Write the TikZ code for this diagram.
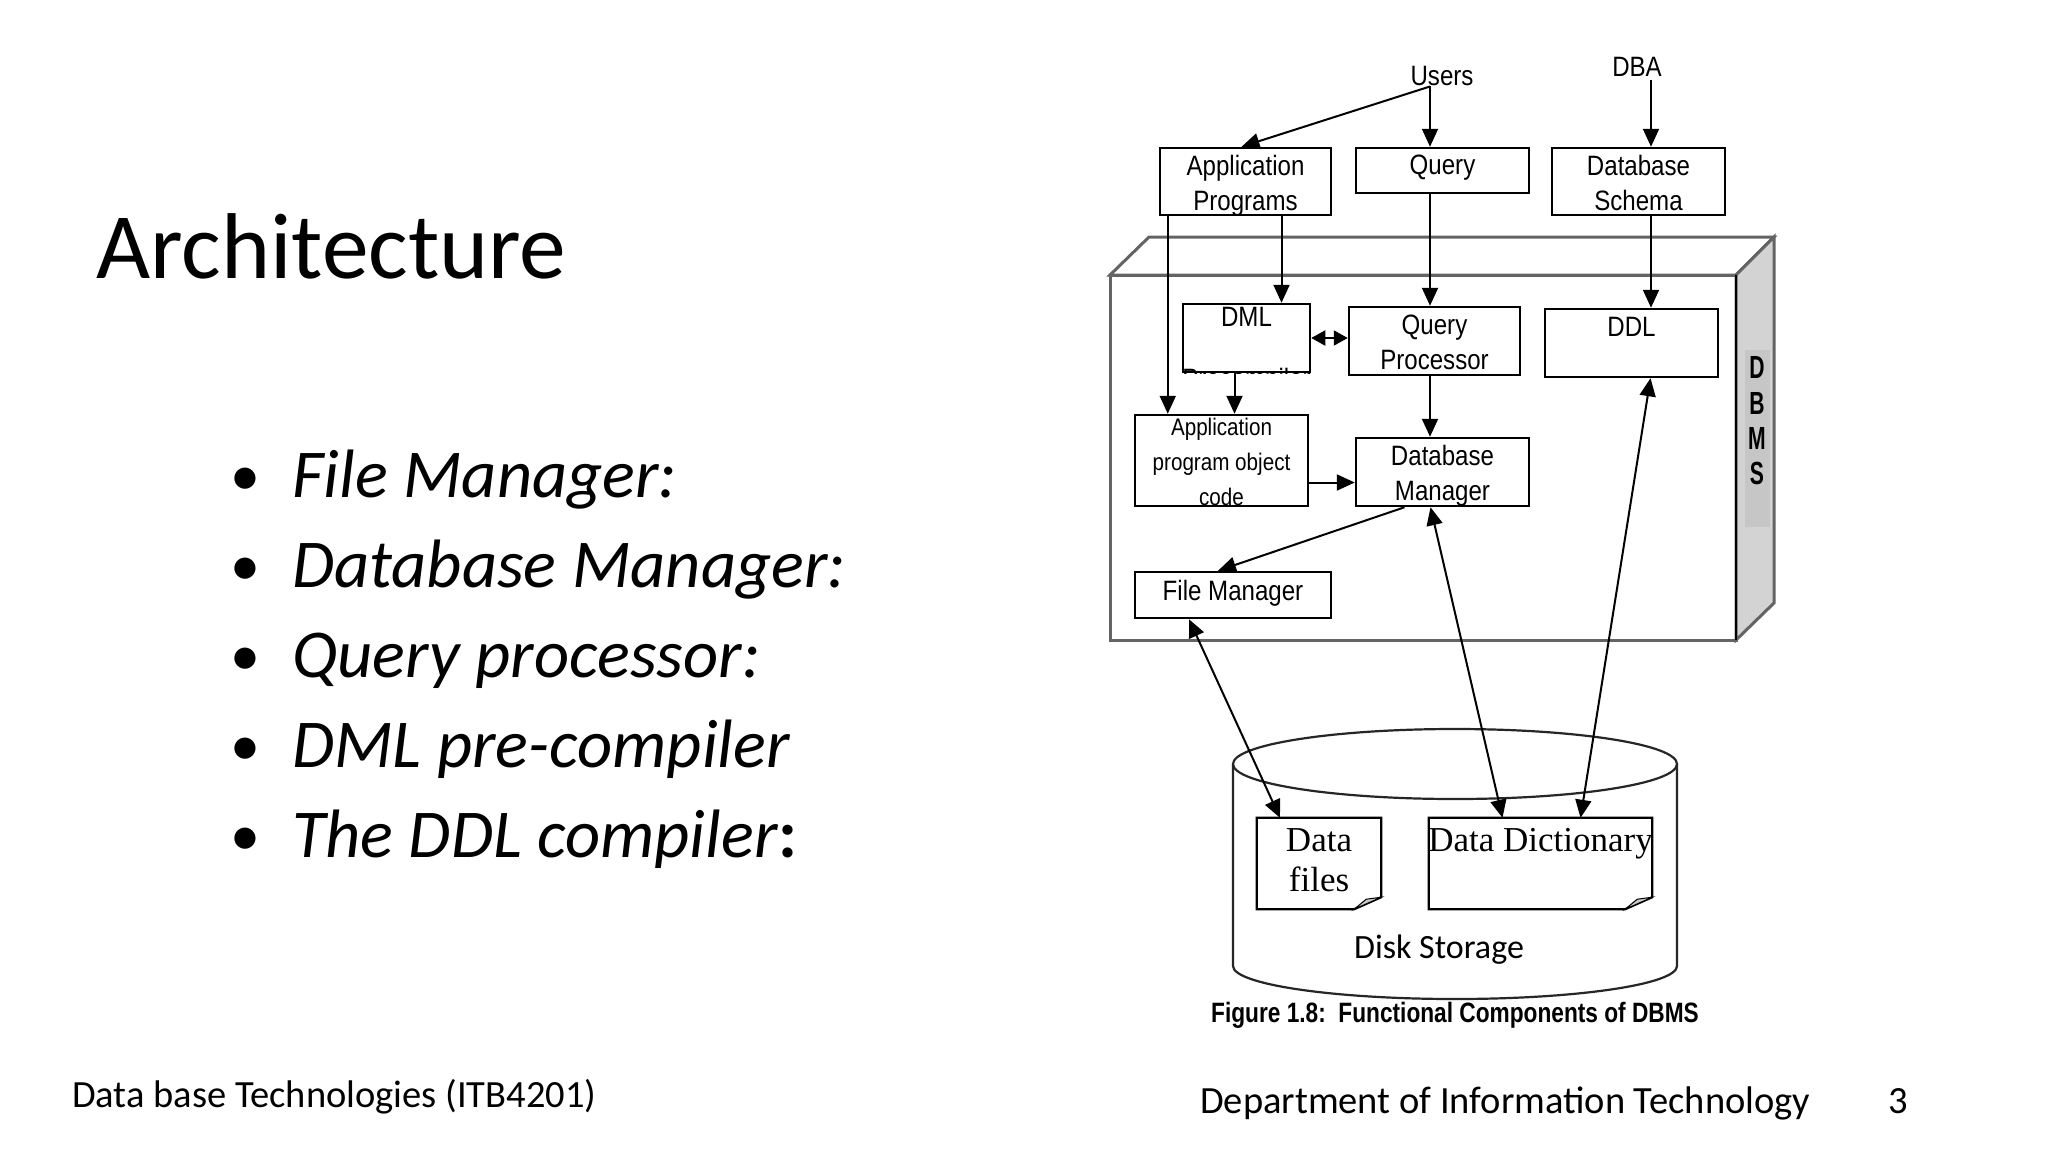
\documentclass[tikz,border=0pt]{standalone}
\usepackage{fontspec}
\setmainfont{Carlito}
\newfontfamily\diagfont[FakeStretch=0.86]{Liberation Sans}
\newfontfamily\capfont[FakeStretch=0.81]{Liberation Sans}
\newfontfamily\dbmsfont[FakeStretch=0.66]{Liberation Sans}
\newfontfamily\docfont{Liberation Serif}
\usetikzlibrary{arrows.meta}
\definecolor{sidegray}{RGB}{211,211,211}
\definecolor{stripgray}{RGB}{198,198,198}
\definecolor{dbmsedge}{RGB}{100,100,100}
\definecolor{foldgray}{RGB}{200,200,200}
\begin{document}
\begin{tikzpicture}[x=1pt,y=-1pt,
  box/.style={draw=black, line width=2.5pt, fill=white, inner sep=0pt},
  lbl/.style={font=\diagfont\fontsize{28}{35}\selectfont, inner sep=0pt, anchor=base},
  lblsm/.style={font=\diagfont\fontsize{24}{30}\selectfont, inner sep=0pt, anchor=base},
  arr/.style={line width=2pt, -{Triangle[length=18pt,width=16pt]}},
  darr/.style={line width=2pt, {Triangle[length=18pt,width=16pt]}-{Triangle[length=18pt,width=16pt]}},
  darrsm/.style={line width=2pt, {Triangle[length=14pt,width=15pt]}-{Triangle[length=14pt,width=15pt]}},
  dbmsline/.style={draw=dbmsedge, line width=3pt, line join=miter},
  cyl/.style={draw=black!85, line width=2.2pt},
  docline/.style={draw=black, line width=2.2pt, fill=white},
  docbox/.style={draw=none, inner sep=0pt, minimum height=91pt},
  doctext/.style={font=\docfont\fontsize{35}{40}\selectfont, inner sep=0pt, anchor=base},
  bul/.style={font=\fontsize{60}{60}\selectfont, inner sep=0pt, anchor=base},
  itm/.style={font=\itshape\fontsize{68.5}{68.5}\selectfont, inner sep=0pt, anchor=base west},
  foot/.style={font=\fontsize{38.5}{38.5}\selectfont, inner sep=0pt}
]
\useasboundingbox (0,0) rectangle (2048,1152);
\fill[white] (0,0) rectangle (2048,1152);

% ---------- slide text ----------
\node[font=\fontsize{93.5}{93.5}\selectfont, inner sep=0pt, anchor=base west] (title) at (96,278) {Architecture};
\node[bul] (b1) at (245,495) {•};
\node[itm] (i1) at (292,497) {File Manager:};
\node[bul] (b2) at (245,585) {•};
\node[itm] (i2) at (292,587) {Database Manager:};
\node[bul] (b3) at (245,675) {•};
\node[itm] (i3) at (292,677) {Query processor:};
\node[bul] (b4) at (245,765) {•};
\node[itm] (i4) at (292,767) {DML pre-compiler};
\node[bul] (b5) at (245,855) {•};
\node[itm] (i5) at (292,857) {The DDL compiler\/\textup{\bfseries :}};

\node[foot, anchor=base west] (f1) at (72,1107) {Data base Technologies (ITB4201)};
\node[foot, anchor=base west] (f2) at (1200,1113) {Department of Information Technology};
\node[foot, anchor=base] (f3) at (1898,1113) {3};

% ---------- DBMS 3D box ----------
\draw[dbmsline, fill=white] (1110,275) rectangle (1736,640);
\draw[dbmsline, fill=white] (1110,275) -- (1149,237) -- (1774,237) -- (1736,275) -- cycle;
\draw[dbmsline, fill=sidegray] (1736,275) -- (1774,237) -- (1774,603) -- (1736,640) -- cycle;
\draw[black, line width=2pt] (1736,275) -- (1736,640);
\fill[stripgray] (1745,350) rectangle (1770,527);
\node[font=\dbmsfont\bfseries\fontsize{32}{32}\selectfont, inner sep=0pt] (dbD) at (1757,367) {D};
\node[font=\dbmsfont\bfseries\fontsize{32}{32}\selectfont, inner sep=0pt] (dbB) at (1757,403) {B};
\node[font=\dbmsfont\bfseries\fontsize{32}{32}\selectfont, inner sep=0pt] (dbM) at (1757,438) {M};
\node[font=\dbmsfont\bfseries\fontsize{32}{32}\selectfont, inner sep=0pt] (dbS) at (1757,473) {S};

% ---------- top labels ----------
\node[lbl] (users) at (1442,85) {Users};
\node[lbl] (dba) at (1637,76) {DBA};
\coordinate (ubot) at ([xshift=-12pt,yshift=-1pt]users.south);
\coordinate (dbot) at ([xshift=14pt,yshift=-4pt]dba.south);

% ---------- boxes ----------
\node[box, minimum width=171pt, minimum height=67pt] (app) at (1245.5,181.5) {};
\node[box, minimum width=173pt, minimum height=45pt] (query) at (1442.5,170.5) {};
\node[box, minimum width=173pt, minimum height=67pt] (schema) at (1638.5,181.5) {};
\node[box, minimum width=127pt, minimum height=68pt] (dml) at (1246.5,338) {};
\node[box, minimum width=171pt, minimum height=68pt] (qp) at (1434.5,341) {};
\node[box, minimum width=173pt, minimum height=68pt] (ddl) at (1631.5,343) {};
\node[box, minimum width=173pt, minimum height=91pt] (appobj) at (1221.5,460.5) {};
\node[box, minimum width=173pt, minimum height=68pt] (dbm) at (1442.5,472) {};
\node[box, minimum width=196pt, minimum height=46pt] (fm) at (1233,595) {};

\begin{scope}
  \clip (app.south west) rectangle (app.north east);
  \node[lbl] (appt1) at ([yshift=-29pt]app.north) {Application};
  \node[lbl] (appt2) at ([yshift=-64pt]app.north) {Programs};
\end{scope}
\begin{scope}
  \clip (query.south west) rectangle (query.north east);
  \node[lbl] (queryt) at ([yshift=-28pt]query.north) {Query};
\end{scope}
\begin{scope}
  \clip (schema.south west) rectangle (schema.north east);
  \node[lbl] (scht1) at ([yshift=-29pt]schema.north) {Database};
  \node[lbl] (scht2) at ([yshift=-64pt]schema.north) {Schema};
\end{scope}
\begin{scope}
  \clip (dml.south west) rectangle (dml.north east);
  \node[lbl] (dmlt1) at ([yshift=-24pt]dml.north) {DML};
  \node[lbl] (dmlt2) at ([yshift=-86pt]dml.north) {Precompiler};
\end{scope}
\begin{scope}
  \clip (qp.south west) rectangle (qp.north east);
  \node[lbl] (qpt1) at ([yshift=-29pt]qp.north) {Query};
  \node[lbl] (qpt2) at ([yshift=-64pt]qp.north) {Processor};
\end{scope}
\begin{scope}
  \clip (ddl.south west) rectangle (ddl.north east);
  \node[lbl] (ddlt) at ([yshift=-29pt]ddl.north) {DDL};
\end{scope}
\begin{scope}
  \clip (appobj.south west) rectangle (appobj.north east);
  \node[lblsm] (aot1) at ([yshift=-22pt]appobj.north) {Application};
  \node[lblsm] (aot2) at ([yshift=-57pt]appobj.north) {program object};
  \node[lblsm] (aot3) at ([yshift=-92pt]appobj.north) {code};
\end{scope}
\begin{scope}
  \clip (dbm.south west) rectangle (dbm.north east);
  \node[lbl] (dbmt1) at ([yshift=-29pt]dbm.north) {Database};
  \node[lbl] (dbmt2) at ([yshift=-64pt]dbm.north) {Manager};
\end{scope}
\node[lbl] (fmt) at ([yshift=-30pt]fm.north) {File Manager};

% ---------- disk storage ----------
\draw[cyl, fill=white] (1233,764) -- (1233,966) arc[start angle=180, end angle=360, x radius=222pt, y radius=33pt] -- (1677,764);
\draw[cyl, fill=white] (1455,764) ellipse [x radius=222pt, y radius=35pt];
\node[font=\fontsize{34}{34}\selectfont, inner sep=0pt] (disk) at (1439,950) {Disk Storage};

\node[docbox, minimum width=124pt] (df) at (1319,863.5) {};
\node[docbox, minimum width=223pt] (dd) at (1540.5,863.5) {};
\draw[docline] (df.north west) -- (df.north east) -- ([yshift=12pt]df.south east) -- ([xshift=-27pt]df.south east) -- (df.south west) -- cycle;
\filldraw[draw=black, line width=1pt, fill=foldgray] ([xshift=-27pt]df.south east) -- ([xshift=-15pt,yshift=10pt]df.south east) -- ([yshift=12pt]df.south east) -- cycle;
\draw[docline] (dd.north west) -- (dd.north east) -- ([yshift=12pt]dd.south east) -- ([xshift=-27pt]dd.south east) -- (dd.south west) -- cycle;
\filldraw[draw=black, line width=1pt, fill=foldgray] ([xshift=-27pt]dd.south east) -- ([xshift=-15pt,yshift=10pt]dd.south east) -- ([yshift=12pt]dd.south east) -- cycle;
\node[doctext] (dft1) at ([yshift=-34pt]df.north) {Data};
\node[doctext] (dft2) at ([yshift=-74pt]df.north) {files};
\node[doctext] (ddt) at ([yshift=-34pt]dd.north) {Data Dictionary};

\node[font=\capfont\bfseries\fontsize{28}{28}\selectfont, inner sep=0pt] (cap) at (1455,1015) {Figure 1.8:\ \ Functional Components of DBMS};

% ---------- connectors ----------
\draw[arr] (ubot) -- ([xshift=-4pt]app.north);
\draw[arr] (ubot) -- (ubot |- query.north);
\draw[arr] (dbot) -- (dbot |- schema.north);
\draw[arr] ([xshift=9pt]app.south west) -- ([xshift=9pt]app.south west |- appobj.north);
\draw[arr] ([xshift=36pt]app.south) -- ([xshift=36pt]app.south |- dml.north);
\draw[arr] (query.south -| ubot) -- (qp.north -| ubot);
\draw[arr] (schema.south -| dbot) -- (ddl.north -| dbot);
\draw[arr] ([xshift=-12pt]dml.south) -- ([xshift=-12pt]dml.south |- appobj.north);
\draw[darrsm] (dml.east) -- (dml.east -| qp.west);
\draw[arr] (qp.south -| ubot) -- (dbm.north -| ubot);
\draw[arr] ([yshift=-22pt]appobj.east) -- ([yshift=-22pt]appobj.east -| dbm.west);
\draw[arr] ([xshift=-38pt]dbm.south) -- ([xshift=-15pt]fm.north);
\draw[darr] ([xshift=-44pt]fm.south) -- ([xshift=-39pt]df.north);
\draw[darr] ([xshift=-12pt]dbm.south) -- ([xshift=-38pt]dd.north);
\draw[darr] ([xshift=19pt]ddl.south) -- ([xshift=40pt]dd.north);
\end{tikzpicture}
\end{document}
